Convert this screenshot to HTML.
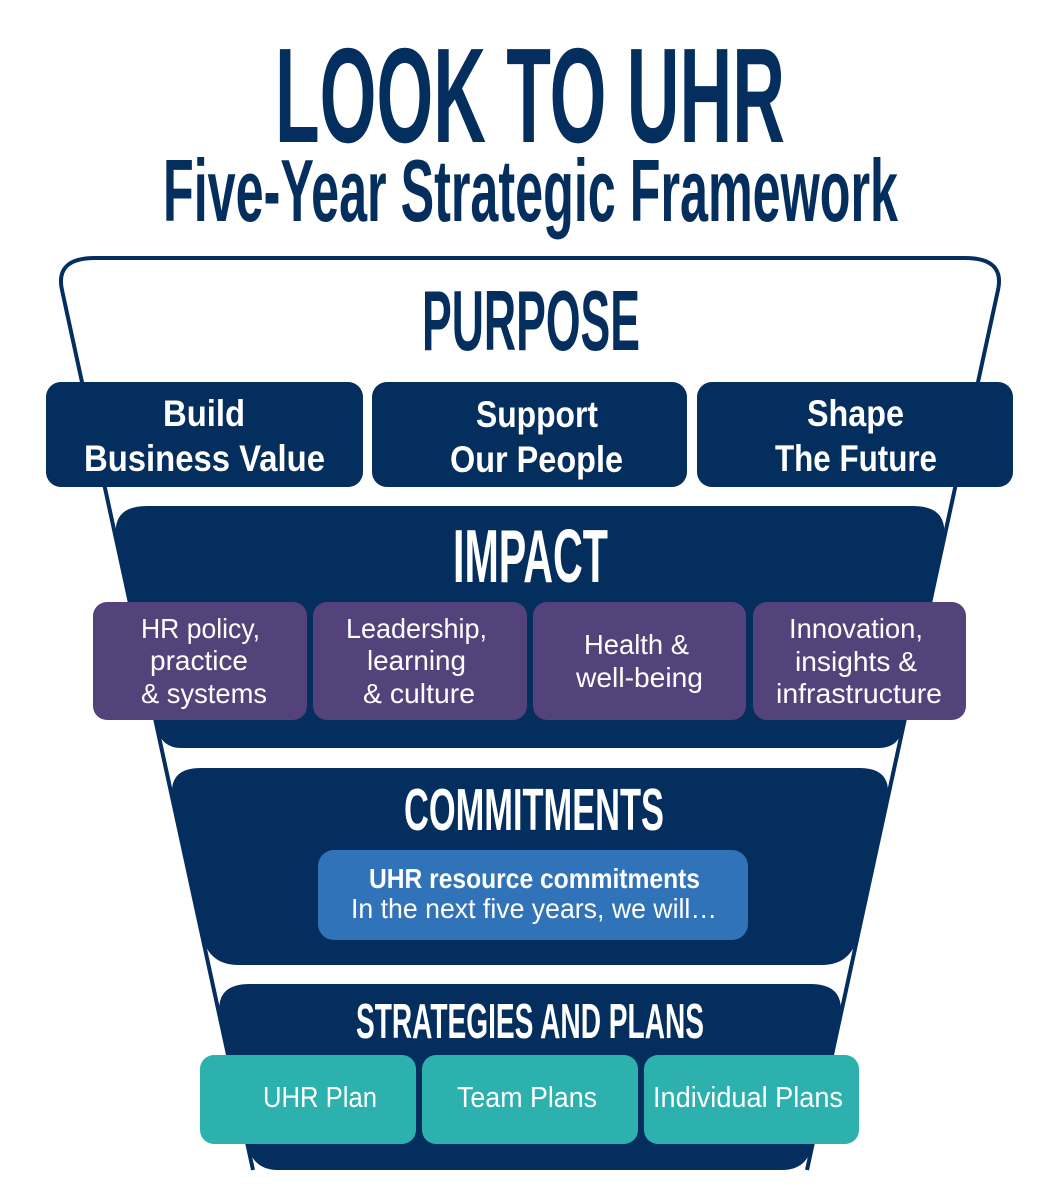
<!DOCTYPE html>
<html>
<head>
<meta charset="utf-8">
<style>
  html,body{margin:0;padding:0;background:#fff;}
  body{width:1052px;height:1200px;overflow:hidden;}
  svg{display:block;}
  text{font-family:"Liberation Sans Narrow","Liberation Sans",sans-serif;}
</style>
</head>
<body>
<svg width="1052" height="1200" viewBox="0 0 1052 1200" xmlns="http://www.w3.org/2000/svg">
  <rect width="1052" height="1200" fill="#ffffff"/>

  <!-- Title -->
  <text x="275" y="142" font-size="135" font-weight="bold" fill="#042e5d" textLength="510" lengthAdjust="spacingAndGlyphs">LOOK TO UHR</text>
  <text x="163" y="221" font-size="88" font-weight="bold" fill="#042e5d" textLength="735" lengthAdjust="spacingAndGlyphs">Five-Year Strategic Framework</text>

  <!-- Funnel outline -->
  <path d="M253,1170 L62,290 Q55,258 95,258 L965,258 Q1005,258 998,290 L807,1170" fill="none" stroke="#042e5d" stroke-width="4" stroke-linejoin="round"/>

  <!-- PURPOSE -->
  <text x="422" y="350" font-size="85" font-weight="bold" fill="#042e5d" textLength="218" lengthAdjust="spacingAndGlyphs">PURPOSE</text>

  <rect x="46" y="382" width="317" height="105" rx="15" fill="#042e5d"/>
  <rect x="372" y="382" width="315" height="105" rx="15" fill="#042e5d"/>
  <rect x="697" y="382" width="316" height="105" rx="15" fill="#042e5d"/>

  <g fill="#ffffff" font-size="37" font-weight="bold">
    <text x="163" y="426" textLength="82" lengthAdjust="spacingAndGlyphs">Build</text>
    <text x="84" y="471" textLength="241" lengthAdjust="spacingAndGlyphs">Business Value</text>
    <text x="476" y="427" textLength="122" lengthAdjust="spacingAndGlyphs">Support</text>
    <text x="450" y="472" textLength="173" lengthAdjust="spacingAndGlyphs">Our People</text>
    <text x="807" y="426" textLength="97" lengthAdjust="spacingAndGlyphs">Shape</text>
    <text x="775" y="471" textLength="162" lengthAdjust="spacingAndGlyphs">The Future</text>
  </g>

  <!-- IMPACT block -->
  <path d="M117.1,544 Q108.9,506 146.9,506 L913.1,506 Q951.1,506 942.9,544 L903.0,728 Q898.6,748 878.6,748 L181.4,748 Q161.4,748 157.0,728 Z" fill="#042e5d"/>
  <text x="453" y="582" font-size="75" font-weight="bold" fill="#ffffff" textLength="155" lengthAdjust="spacingAndGlyphs">IMPACT</text>

  <rect x="93" y="602" width="214" height="118" rx="14" fill="#54437a"/>
  <rect x="313" y="602" width="214" height="118" rx="14" fill="#54437a"/>
  <rect x="533" y="602" width="213" height="118" rx="14" fill="#54437a"/>
  <rect x="753" y="602" width="213" height="118" rx="14" fill="#54437a"/>

  <g fill="#ffffff" font-size="28">
    <text x="141" y="638" textLength="119" lengthAdjust="spacingAndGlyphs">HR policy,</text>
    <text x="150" y="670" textLength="98" lengthAdjust="spacingAndGlyphs">practice</text>
    <text x="141" y="703" textLength="126" lengthAdjust="spacingAndGlyphs">&amp; systems</text>

    <text x="346" y="638" textLength="141" lengthAdjust="spacingAndGlyphs">Leadership,</text>
    <text x="367" y="670" textLength="99" lengthAdjust="spacingAndGlyphs">learning</text>
    <text x="363" y="703" textLength="112" lengthAdjust="spacingAndGlyphs">&amp; culture</text>

    <text x="584" y="654" textLength="105" lengthAdjust="spacingAndGlyphs">Health &amp;</text>
    <text x="576" y="687" textLength="127" lengthAdjust="spacingAndGlyphs">well-being</text>

    <text x="789" y="638" textLength="134" lengthAdjust="spacingAndGlyphs">Innovation,</text>
    <text x="795" y="671" textLength="122" lengthAdjust="spacingAndGlyphs">insights &amp;</text>
    <text x="776" y="703" textLength="166" lengthAdjust="spacingAndGlyphs">infrastructure</text>
  </g>

  <!-- COMMITMENTS block -->
  <path d="M173.3,803 Q165.7,768 200.7,768 L859.3,768 Q894.3,768 886.7,803 L858.0,935 Q851.5,965 821.5,965 L238.5,965 Q208.5,965 202.0,935 Z" fill="#042e5d"/>
  <text x="404" y="830" font-size="59" font-weight="bold" fill="#ffffff" textLength="260" lengthAdjust="spacingAndGlyphs">COMMITMENTS</text>

  <rect x="318" y="850" width="430" height="90" rx="16" fill="#3173b9"/>
  <text x="369" y="888" font-size="28" font-weight="bold" fill="#ffffff" textLength="331" lengthAdjust="spacingAndGlyphs">UHR resource commitments</text>
  <text x="351" y="918" font-size="28" fill="#ffffff" textLength="366" lengthAdjust="spacingAndGlyphs">In the next five years, we will…</text>

  <!-- STRATEGIES block -->
  <path d="M220.6,1021 Q212.6,984 249.6,984 L810.4,984 Q847.4,984 839.4,1021 L812.5,1145 Q807,1170 782,1170 L278,1170 Q253,1170 247.5,1145 Z" fill="#042e5d"/>
  <text x="356" y="1038" font-size="49" font-weight="bold" fill="#ffffff" textLength="348" lengthAdjust="spacingAndGlyphs">STRATEGIES AND PLANS</text>

  <rect x="200" y="1055" width="216" height="89" rx="14" fill="#2cb1ae"/>
  <rect x="422" y="1055" width="216" height="89" rx="14" fill="#2cb1ae"/>
  <rect x="644" y="1055" width="215" height="89" rx="14" fill="#2cb1ae"/>

  <g fill="#ffffff" font-size="29">
    <text x="263" y="1107" textLength="114" lengthAdjust="spacingAndGlyphs">UHR Plan</text>
    <text x="457" y="1107" textLength="140" lengthAdjust="spacingAndGlyphs">Team Plans</text>
    <text x="653" y="1107" textLength="190" lengthAdjust="spacingAndGlyphs">Individual Plans</text>
  </g>
</svg>
</body>
</html>
